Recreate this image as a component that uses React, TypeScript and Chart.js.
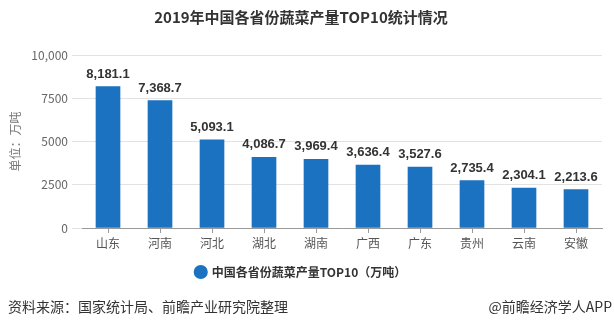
import React, { useEffect, useRef } from "react";
import { Chart, registerables } from "chart.js";

Chart.register(...registerables);

const titleText = "2019年中国各省份蔬菜产量TOP10统计情况";
const categories = ["山东", "河南", "河北", "湖北", "湖南", "广西", "广东", "贵州", "云南", "安徽"];
const seriesName = "中国各省份蔬菜产量TOP10（万吨）";
const values = [8181.1, 7368.7, 5093.1, 4086.7, 3969.4, 3636.4, 3527.6, 2735.4, 2304.1, 2213.6];
const yTickLabels = ["0", "2500", "5000", "7500", "10,000"];
const yTitle = "单位：万吨";
const sourceText = "资料来源：国家统计局、前瞻产业研究院整理";
const creditText = "@前瞻经济学人APP";

const FONT = "'Noto Sans CJK SC', 'Noto Sans', sans-serif";

const fmt = (v: number) =>
  v.toLocaleString("en-US", { minimumFractionDigits: 1, maximumFractionDigits: 1 });

const extrasPlugin = {
  id: "extras",
  afterDatasetsDraw(chart: any) {
    const ctx = chart.ctx;
    const meta = chart.getDatasetMeta(0);
    ctx.save();
    ctx.font = "bold 13px 'Liberation Sans', Arial, sans-serif";
    ctx.fillStyle = "#333";
    ctx.textAlign = "center";
    ctx.textBaseline = "bottom";
    meta.data.forEach((bar: any, i: number) => {
      ctx.fillText(fmt(values[i]), bar.x, bar.y - 6);
    });
    ctx.restore();
  },
  afterDraw(chart: any) {
    const ctx = chart.ctx;
    ctx.save();
    ctx.font = `14px ${FONT}`;
    ctx.fillStyle = "#333";
    ctx.textBaseline = "middle";
    ctx.textAlign = "left";
    ctx.fillText(sourceText, 8, 307);
    ctx.textAlign = "right";
    ctx.fillText(creditText, 612, 307);
    ctx.restore();
  },
};

export default function App() {
  const ref = useRef<HTMLCanvasElement>(null);
  useEffect(() => {
    if (!ref.current) return;
    const chart = new Chart(ref.current, {
      type: "bar",
      data: {
        labels: categories,
        datasets: [
          {
            label: seriesName,
            data: values,
            backgroundColor: "#1b72c0",
            barThickness: 24,
          },
        ],
      },
      options: {
        animation: false,
        responsive: true,
        maintainAspectRatio: false,
        layout: { padding: { left: 0, right: 12, top: 0, bottom: 38 } },
        plugins: {
          title: {
            display: true,
            text: titleText,
            color: "#333",
            font: { size: 15, weight: "bold", family: FONT },
            padding: { top: 8, bottom: 29 },
          },
          legend: {
            display: true,
            position: "bottom",
            maxHeight: 36,
            labels: {
              usePointStyle: true,
              pointStyle: "circle",
              boxWidth: 10,
              boxHeight: 10,
              padding: 10,
              color: "#333",
              font: { size: 12, weight: "bold", family: FONT },
            },
          },
          tooltip: { enabled: false },
        },
        scales: {
          x: {
            offset: true,
            grid: {
              display: true,
              offset: false,
              drawOnChartArea: false,
              drawTicks: true,
              tickLength: 5,
              tickColor: "#999",
            },
            border: { display: true, color: "#999" },
            ticks: {
              color: "#555",
              padding: 3,
              font: { size: 12, family: FONT },
              maxRotation: 0,
            },
            afterFit(scale: any) {
              scale.height = 28;
            },
          },
          y: {
            min: 0,
            max: 10000,
            grid: {
              color: "#e2e2e2",
              tickColor: "#e2e2e2",
              drawTicks: true,
              tickLength: 10,
            },
            border: { display: false },
            ticks: {
              stepSize: 2500,
              padding: 4,
              color: "#666",
              font: { size: 12, family: FONT },
              callback: (_v: any, i: number) => yTickLabels[i],
            },
            title: {
              display: true,
              text: yTitle,
              color: "#777",
              font: { size: 12, family: FONT },
              padding: { top: 8, bottom: 0 },
            },
            afterFit(scale: any) {
              scale.width = 82;
            },
          },
        },
      },
      plugins: [extrasPlugin],
    } as any);
    return () => chart.destroy();
  }, []);
  return (
    <div
      style={{
        position: "fixed",
        left: 0,
        top: 0,
        width: 614,
        height: 326,
        background: "#fff",
      }}
    >
      <canvas ref={ref} />
    </div>
  );
}
